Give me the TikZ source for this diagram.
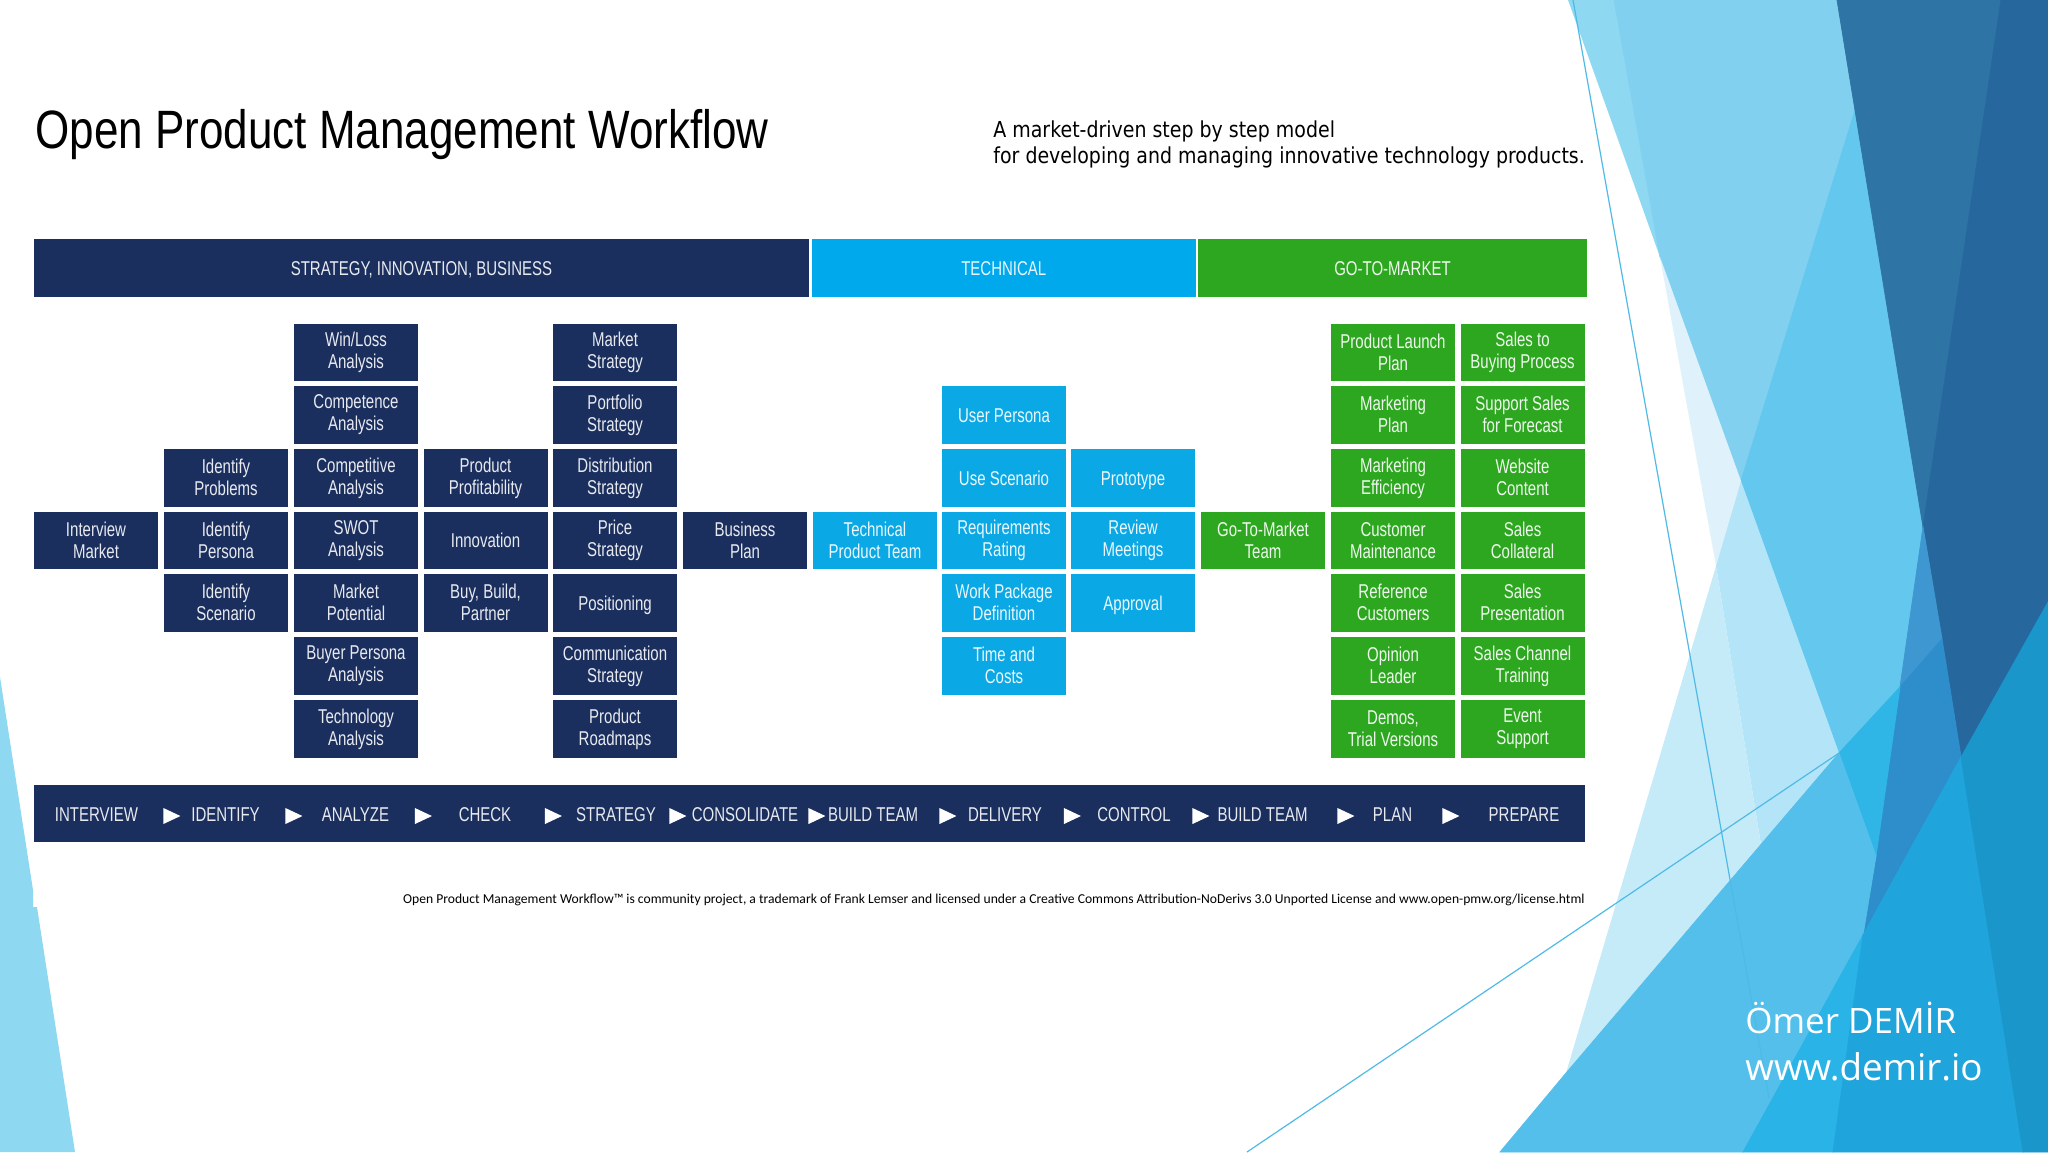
\documentclass[tikz,border=0pt]{standalone}
\usepackage{fontspec}
\usepackage{tikz}
\usetikzlibrary{shapes.geometric}
\setmainfont{Liberation Sans}[FakeStretch=0.75]
\newfontfamily\titlefont{Liberation Sans}[FakeStretch=0.815]
\newfontfamily\introfont{DejaVu Sans}[FakeStretch=0.862]
\newfontfamily\notefont{Carlito}
\newfontfamily\signfont{Open Sans}
\newcommand{\boxstrut}{\rule[-0.4pt]{0pt}{10.6pt}}
\newcommand{\linestrut}{\rule[-3.2pt]{0pt}{1pt}}
\definecolor{navy}{HTML}{1B2F5F}
\definecolor{sky}{HTML}{0AA8E4}
\definecolor{skyhead}{HTML}{00A8EC}
\definecolor{grass}{HTML}{2DA71F}
\definecolor{themeline}{HTML}{4FBAE6}
\definecolor{facetstrip}{HTML}{8FD8F2}
\definecolor{facetpale}{HTML}{82D0F0}
\definecolor{facetsoft}{HTML}{64C7EE}
\definecolor{facetmist}{HTML}{DFF2FB}
\definecolor{facetfog}{HTML}{B3E4F7}
\definecolor{facethaze}{HTML}{C5EBF9}
\definecolor{facetsteel}{HTML}{2E74A4}
\definecolor{facetdeep}{HTML}{26689E}
\definecolor{facetmid}{HTML}{3E97D0}
\definecolor{facetblue}{HTML}{2E8ECB}
\definecolor{facetcyan}{HTML}{2FB6E6}
\definecolor{facetbase}{HTML}{54BFEA}
\definecolor{facetbright}{HTML}{2AB3E6}
\definecolor{facetsea}{HTML}{1FA5DC}
\definecolor{facetdark}{HTML}{1A96CB}
\tikzset{
  facet/.style={fill=#1,draw=#1,line width=0.4pt},
  stepbox/.style={minimum width=62pt,minimum height=28.7pt,inner sep=0pt,align=center,font=\fontsize{10}{11}\selectfont,execute at begin node=\boxstrut,execute at end node=\boxstrut},
  oneline/.style={execute at end node=\linestrut},
  navybox/.style={stepbox,fill=navy,text=white!90!navy},
  skybox/.style={stepbox,fill=sky,text=white!92!sky},
  grassbox/.style={stepbox,fill=grass,text=white!92!grass},
  bartext/.style={inner sep=0pt,text=white!90!navy,font=\fontsize{10}{11}\selectfont},
  barmark/.style={isosceles triangle,isosceles triangle apex angle=80,isosceles triangle stretches,fill=white,minimum width=8pt,minimum height=8.5pt,inner sep=0pt}
}
\begin{document}
\begin{tikzpicture}[x=0.5pt,y=-0.5pt]
\useasboundingbox (0,0) rectangle (2048,1152);
\fill[white] (0,0) rectangle (2048,1152);
\fill[facetstrip] (0,677)--(33,890)--(33,907)--(37,907)--(75,1152)--(0,1152)--cycle;
\fill[facetstrip] (1568,0)--(1614,0)--(1660,257)--cycle;
\fill[facet=facetpale] (1614,0)--(1837,0)--(1855,110)--(1741,481)--(1660,257)--cycle;
\fill[facet=facetsoft] (1855,110)--(1923,527)--(1900,687)--(1839,753)--(1741,481)--cycle;
\fill[facetmist] (1660,257)--(1741,481)--(1716,566)--cycle;
\fill[facetfog] (1741,481)--(1839,753)--(1761,845)--(1716,566)--cycle;
\fill[facethaze] (1716,566)--(1761,845)--(1566,1073)--cycle;
\fill[facet=facetsteel] (1837,0)--(2001,0)--(1923,527)--cycle;
\fill[facet=facetdeep] (2001,0)--(2048,0)--(2048,602)--(1961,757)--(1923,527)--cycle;
\fill[facet=facetmid] (1923,527)--(1942,639)--(1900,687)--cycle;
\fill[facet=facetblue] (1900,687)--(1942,639)--(1961,757)--(1863,935)--cycle;
\fill[facet=facetcyan] (1839,753)--(1900,687)--(1876,856)--cycle;
\fill[facet=facetbase] (1500,1152)--(1566,1073)--(1839,753)--(1876,856)--(1863,935)--(1743,1152)--cycle;
\fill[facet=facetbright] (1743,1152)--(1863,935)--(1833,1152)--cycle;
\fill[facet=facetsea] (1833,1152)--(1863,935)--(1961,757)--(2023,1152)--cycle;
\fill[facet=facetdark] (1961,757)--(2048,602)--(2048,1152)--(2023,1152)--cycle;
\draw[themeline,line width=0.6pt] (1573,0)--(1769,1098);
\draw[themeline,line width=0.6pt] (1247,1152)--(1839,753);
\node[anchor=base west,inner sep=0pt,font=\titlefont\fontsize{27}{30}\selectfont] (title) at (35,148) {Open Product Management Workflow};
\node[anchor=base west,inner sep=0pt,align=left,font=\introfont\fontsize{11}{13}\selectfont] (intro) at (993,163) {A market-driven step by step model\\for developing and managing innovative technology products.};
\node[navybox,oneline,minimum width=387.5pt,minimum height=29pt] (strategyhead) at (421.5,268) {STRATEGY, INNOVATION, BUSINESS};
\node[stepbox,oneline,fill=skyhead,text=white!90!sky,minimum width=192.25pt,minimum height=29pt] (technicalhead) at (1003.75,268) {TECHNICAL};
\node[grassbox,oneline,minimum width=194.5pt,minimum height=29pt] (marketinghead) at (1392.5,268) {GO-TO-MARKET};
\node[navybox] (interviewmarket) at (96,540.5) {Interview\\Market};
\node[navybox] (identifyproblems) at (226,478) {Identify\\Problems};
\node[navybox] (identifypersona) at (226,540.5) {Identify\\Persona};
\node[navybox] (identifyscenario) at (226,603) {Identify\\Scenario};
\node[navybox] (winloss) at (356,352.5) {Win/Loss\\Analysis};
\node[navybox] (competence) at (356,415) {Competence\\Analysis};
\node[navybox] (competitive) at (356,478) {Competitive\\Analysis};
\node[navybox] (swot) at (356,540.5) {SWOT\\Analysis};
\node[navybox] (potential) at (356,603) {Market\\Potential};
\node[navybox] (buyerpersona) at (356,666) {Buyer Persona\\Analysis};
\node[navybox] (technology) at (356,729) {Technology\\Analysis};
\node[navybox] (profitability) at (485.5,478) {Product\\Profitability};
\node[navybox,oneline] (innovation) at (485.5,540.5) {Innovation};
\node[navybox] (buybuild) at (485.5,603) {Buy, Build,\\Partner};
\node[navybox] (marketstrategy) at (615,352.5) {Market\\Strategy};
\node[navybox] (portfolio) at (615,415) {Portfolio\\Strategy};
\node[navybox] (distribution) at (615,478) {Distribution\\Strategy};
\node[navybox] (price) at (615,540.5) {Price\\Strategy};
\node[navybox,oneline] (positioning) at (615,603) {Positioning};
\node[navybox] (communication) at (615,666) {Communication\\Strategy};
\node[navybox] (roadmaps) at (615,729) {Product\\Roadmaps};
\node[navybox] (businessplan) at (745,540.5) {Business\\Plan};
\node[skybox] (techteam) at (875,540.5) {Technical\\Product Team};
\node[skybox,oneline] (userpersona) at (1004,415) {User Persona};
\node[skybox,oneline] (usescenario) at (1004,478) {Use Scenario};
\node[skybox] (requirements) at (1004,540.5) {Requirements\\Rating};
\node[skybox] (workpackage) at (1004,603) {Work Package\\Definition};
\node[skybox] (timecosts) at (1004,666) {Time and\\Costs};
\node[skybox,oneline] (prototype) at (1133,478) {Prototype};
\node[skybox] (reviews) at (1133,540.5) {Review\\Meetings};
\node[skybox,oneline] (approval) at (1133,603) {Approval};
\node[grassbox] (marketteam) at (1263,540.5) {Go-To-Market\\Team};
\node[grassbox] (launchplan) at (1393,352.5) {Product Launch\\Plan};
\node[grassbox] (marketingplan) at (1393,415) {Marketing\\Plan};
\node[grassbox] (efficiency) at (1393,478) {Marketing\\Efficiency};
\node[grassbox] (maintenance) at (1393,540.5) {Customer\\Maintenance};
\node[grassbox] (references) at (1393,603) {Reference\\Customers};
\node[grassbox] (opinion) at (1393,666) {Opinion\\Leader};
\node[grassbox] (demos) at (1393,729) {Demos,\\Trial Versions};
\node[grassbox] (buying) at (1522.5,352.5) {Sales to\\Buying Process};
\node[grassbox] (forecast) at (1522.5,415) {Support Sales\\for Forecast};
\node[grassbox] (website) at (1522.5,478) {Website\\Content};
\node[grassbox] (collateral) at (1522.5,540.5) {Sales\\Collateral};
\node[grassbox] (presentation) at (1522.5,603) {Sales\\Presentation};
\node[grassbox] (channel) at (1522.5,666) {Sales Channel\\Training};
\node[grassbox] (eventsupport) at (1522.5,729) {Event\\Support};
\node[fill=navy,minimum width=775.5pt,minimum height=28.5pt,inner sep=0pt] (stepbar) at (809.5,813.5) {};
\node[bartext] (interview) at (96.5,815) {INTERVIEW};
\node[bartext] (identify) at (225.5,815) {IDENTIFY};
\node[bartext] (analyze) at (355.5,815) {ANALYZE};
\node[bartext] (check) at (485,815) {CHECK};
\node[bartext] (strategy) at (616,815) {STRATEGY};
\node[bartext] (consolidate) at (745,815) {CONSOLIDATE};
\node[bartext] (buildteamone) at (873,815) {BUILD TEAM};
\node[bartext] (delivery) at (1005,815) {DELIVERY};
\node[bartext] (control) at (1134,815) {CONTROL};
\node[bartext] (buildteamtwo) at (1262.5,815) {BUILD TEAM};
\node[bartext] (plan) at (1392.5,815) {PLAN};
\node[bartext] (prepare) at (1524,815) {PREPARE};
\node[barmark] (markone) at (168.5,816) {};
\node[barmark] (marktwo) at (290.5,816) {};
\node[barmark] (markthree) at (420,816) {};
\node[barmark] (markfour) at (550,816) {};
\node[barmark] (markfive) at (674.5,816) {};
\node[barmark] (marksix) at (813.5,816) {};
\node[barmark] (markseven) at (944.5,816) {};
\node[barmark] (markeight) at (1069,816) {};
\node[barmark] (marknine) at (1197.5,816) {};
\node[barmark] (markten) at (1342.5,816) {};
\node[barmark] (markeleven) at (1447.5,816) {};
\node[anchor=base east,inner sep=0pt,font=\notefont\fontsize{6.81}{8}\selectfont] (licence) at (1585,903) {Open Product Management Workflow™ is community project, a trademark of Frank Lemser and licensed under a Creative Commons Attribution-NoDerivs 3.0 Unported License and www.open-pmw.org/license.html};
\node[anchor=base west,inner sep=0pt,text=white,font=\signfont\fontsize{17.5}{23}\selectfont] (signname) at (1745,1033) {Ömer DEMİR};
\node[anchor=base west,inner sep=0pt,text=white,font=\signfont\fontsize{18.4}{23}\selectfont] (signweb) at (1745,1080) {www.demir.io};
\end{tikzpicture}
\end{document}
